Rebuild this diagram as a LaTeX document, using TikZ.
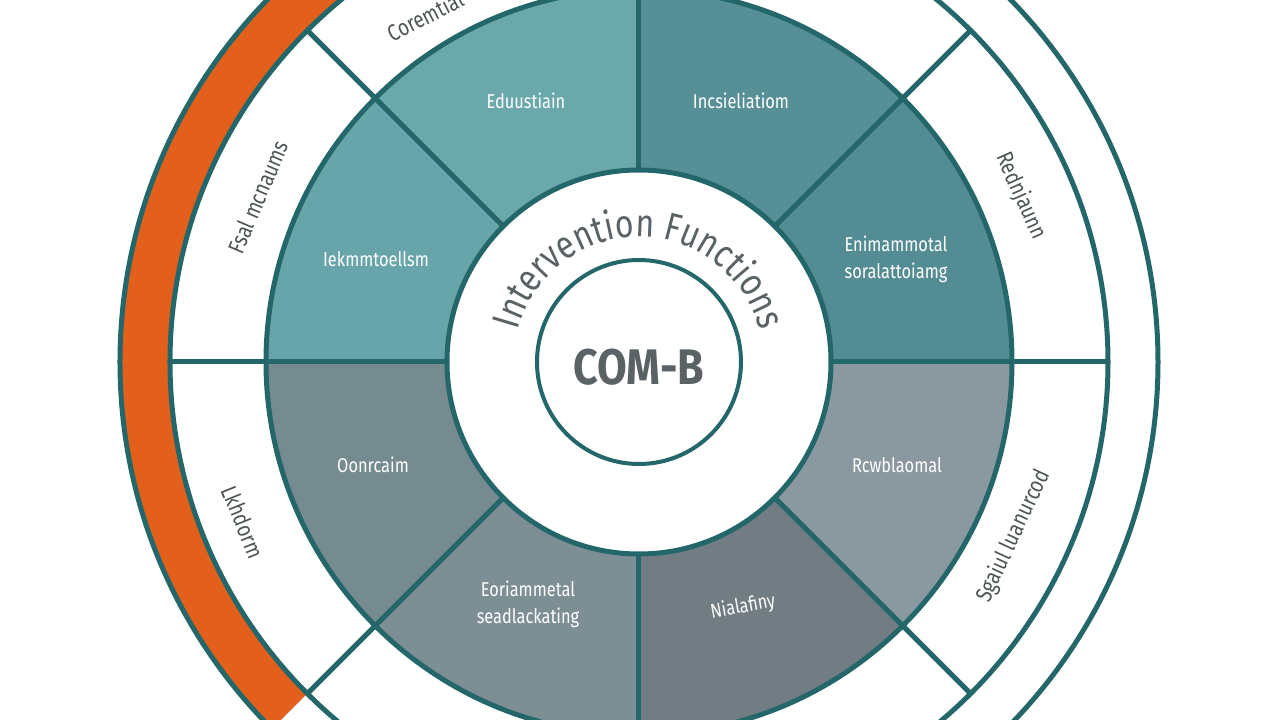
\documentclass[tikz,border=0pt]{standalone}
\usepackage{fontspec}
\setmainfont{Fira Sans}
\newfontfamily\condfont[FakeStretch=0.82]{Fira Sans}
\newfontfamily\combfont[FakeStretch=0.86]{Fira Sans}
\usetikzlibrary{decorations.text}
\definecolor{wline}{HTML}{23676A}
\definecolor{orng}{HTML}{E2601B}
\definecolor{segA}{HTML}{548C94}
\definecolor{segB}{HTML}{578F97}
\definecolor{segC}{HTML}{6AA8AC}
\definecolor{segD}{HTML}{68A5AA}
\definecolor{segE}{HTML}{768B90}
\definecolor{segF}{HTML}{7D8E94}
\definecolor{segG}{HTML}{717D82}
\definecolor{segH}{HTML}{8A99A0}
\definecolor{ringtxt}{HTML}{4D5456}
\definecolor{ctxt}{HTML}{5A6265}
\tikzset{
  seglabel/.style={text=white, font=\condfont\fontsize{20}{27}\selectfont, align=center, inner sep=0pt},
  ringlabel/.style={text=ringtxt, font=\condfont\fontsize{23}{26}\selectfont, inner sep=0pt},
  ringline/.style={draw=wline, line width=5pt},
  divline/.style={draw=wline, line width=5pt},
}
\begin{document}
\begin{tikzpicture}[x=1pt,y=1pt]
\useasboundingbox[fill=white] (-639,-358) rectangle (641,362);
% coloured sectors
\foreach \a/\c in {0/segA,45/segB,90/segC,135/segD,180/segE,225/segF,270/segG,315/segH}{
  \pgfmathsetmacro{\b}{\a+45}
  \fill[\c] (\a:192) arc[start angle=\a, end angle=\b, radius=192] -- (\b:373) arc[start angle=\b, end angle=\a, radius=373] -- cycle;
}
% orange band
\fill[orng] (120:469) arc[start angle=120, end angle=225, radius=469] -- (225:519) arc[start angle=225, end angle=120, radius=519] -- cycle;
% circles
\draw[ringline] (0,0) circle[radius=519];
\draw[ringline] (0,0) circle[radius=469];
\draw[ringline] (0,0) circle[radius=373];
% dividers
\foreach \a in {0,45,...,315}{
  \coordinate (i\a) at (\a:192);
  \coordinate (m\a) at (\a:373);
  \coordinate (o\a) at (\a:469);
  \draw[divline] (i\a) -- (m\a) -- (o\a);
}
\draw[ringline, fill=white] (0,0) circle[radius=192];
\draw[wline, line width=4pt] (0,0) circle[radius=102];
% centre texts
\node[text=ctxt, font=\combfont\bfseries\fontsize{50}{56}\selectfont] (comb) at (0,-5) {COM-B};
\path[decorate, decoration={text along path, text color=ctxt, text align=center,
  text={|\condfont\fontsize{39}{42}\selectfont|Intervention Functions}}]
  (178:125) arc[start angle=178, end angle=2, radius=125];
% sector labels
\node[seglabel] (edu) at (-113,261) {Eduustiain};
\node[seglabel] (inc) at (102,261) {Incsieliatiom};
\node[seglabel] (iek) at (-263,103) {Iekmmtoellsm};
\node[seglabel] (env1) at (257,103) {Enimammotal\\soralattoiamg};
\node[seglabel] (oon) at (-266,-103) {Oonrcaim};
\node[seglabel] (rcw) at (258,-103) {Rcwblaomal};
\node[seglabel] (env2) at (-111,-242) {Eoriammetal\\seadlackating};
\node[seglabel, rotate=10] (nia) at (104,-245) {Nialafiny};
% outer ring labels
\node[ringlabel, rotate=27] (cor) at (-214,346) {Coremtial};
\node[ringlabel, rotate=67] (fsa) at (-381,165) {Fsal mcnaums};
\node[ringlabel, rotate=-68] (lkh) at (-396,-160) {Lkhdorm};
\node[ringlabel, rotate=-66] (red) at (382,166) {Rednjaunn};
\node[ringlabel, rotate=65] (sga) at (375,-174) {Sgaiul luanurcod};
\end{tikzpicture}
\end{document}
